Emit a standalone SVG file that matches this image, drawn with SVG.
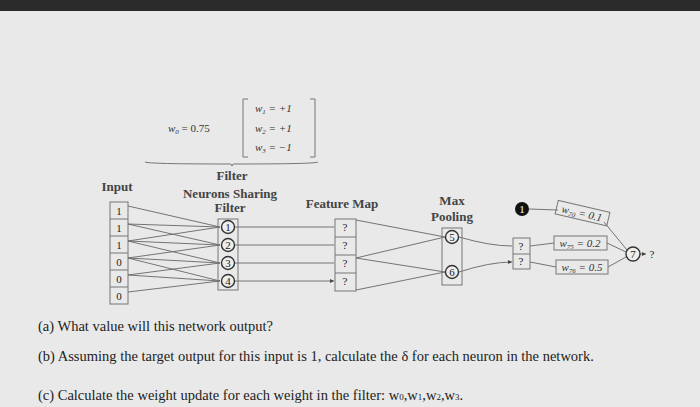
<svg xmlns="http://www.w3.org/2000/svg" width="700" height="407" viewBox="0 0 700 407">
<defs>
<marker id="ar" viewBox="0 0 6 6" refX="6" refY="3" markerWidth="5" markerHeight="5" orient="auto"><path d="M0,0L6,3L0,6z" fill="#444"/></marker>
<style>
text{font-family:"Liberation Serif",serif;fill:#333}
.t{font-size:13px;text-anchor:middle;font-weight:bold;fill:#444}
.i{font-style:italic;font-size:11px}
.q{font-size:14.5px;fill:#222}
.b{fill:none;stroke:#777;stroke-width:1}
.l{stroke:#666;stroke-width:0.9;fill:none}
.n{fill:#eee;stroke:#333;stroke-width:1.4}
.nt{font-size:11px;text-anchor:middle;fill:#222}
</style>
</defs>
<rect width="700" height="407" fill="#e9e9e9"/>
<rect width="700" height="11" fill="#2a2a2a"/>
<g id="filter-def">
<text x="168" y="132" class="i">w<tspan font-size="7" dy="2">0</tspan><tspan dy="-2" font-style="normal"> = 0.75</tspan></text>
<path d="M248,99h-5v58h5M310,99h5v58h-5" class="b" stroke="#444"/>
<text x="255" y="112" class="i">w<tspan font-size="7" dy="2">1</tspan><tspan dy="-2"> = +1</tspan></text>
<text x="255" y="132" class="i">w<tspan font-size="7" dy="2">2</tspan><tspan dy="-2"> = +1</tspan></text>
<text x="255" y="151" class="i">w<tspan font-size="7" dy="2">3</tspan><tspan dy="-2"> = −1</tspan></text>
<path d="M145,162Q148,164 230,164Q232,164 232,166Q232,164 234,164Q316,164 318,162" class="b"/>
<text x="232" y="180" class="t">Filter</text>
</g>
<g id="input">
<text x="117" y="191" class="t">Input</text>
<rect x="110" y="202" width="18" height="102" class="b"/>
<path d="M110,219h18M110,236h18M110,253h18M110,270h18M110,287h18" class="b"/>
<text x="119" y="215" class="nt">1</text><text x="119" y="232" class="nt">1</text><text x="119" y="249" class="nt">1</text>
<text x="119" y="266" class="nt">0</text><text x="119" y="283" class="nt">0</text><text x="119" y="300" class="nt">0</text>
</g>
<g id="connectors">
<path class="l" d="M128,206L220,227M128,224L220,245M128,241L220,263M128,224L220,227M128,241L220,245M128,258L220,263M128,241L220,227M128,258L220,245M128,275L220,263M128,258L220,281M128,275L220,281M128,292L220,281"/>
<path class="l" marker-end="url(#ar)" d="M235,227H334M235,245H334M235,263H334M235,281H334"/>
<path class="l" d="M356,220L445,237M356,258L445,237M356,258L445,272M356,290L445,272"/>
<path class="l" marker-end="url(#ar)" d="M459,237Q490,246 512,246M459,272Q490,262 512,262"/>
<path class="l" d="M529,209L558,210M530,246L554,243M530,262L556,267"/>
<path class="l" marker-end="url(#ar)" d="M604,222L627,250M607,243L626,252M608,267L626,257M640,254H646"/>
</g>
<g id="conv-neurons">
<text x="230" y="198" class="t">Neurons Sharing</text>
<text x="230" y="212" class="t">Filter</text>
<rect x="218" y="219" width="20" height="71" class="b"/>
<circle cx="228" cy="227" r="6.5" class="n"/><text x="228" y="231" class="nt">1</text>
<circle cx="228" cy="245" r="6.5" class="n"/><text x="228" y="249" class="nt">2</text>
<circle cx="228" cy="263" r="6.5" class="n"/><text x="228" y="267" class="nt">3</text>
<circle cx="228" cy="281" r="6.5" class="n"/><text x="228" y="285" class="nt">4</text>
</g>
<g id="feature-map">
<text x="342" y="208" class="t">Feature Map</text>
<rect x="335" y="219" width="21" height="72" class="b"/>
<path d="M335,237h21M335,255h21M335,273h21" class="b"/>
<text x="345" y="231" class="nt">?</text><text x="345" y="249" class="nt">?</text><text x="345" y="267" class="nt">?</text><text x="345" y="285" class="nt">?</text>
</g>
<g id="pooling">
<text x="452" y="205" class="t">Max</text>
<text x="452" y="221" class="t">Pooling</text>
<rect x="442" y="228" width="20" height="57" class="b"/>
<circle cx="452" cy="237" r="6.5" class="n"/><text x="452" y="241" class="nt">5</text>
<circle cx="452" cy="272" r="6.5" class="n"/><text x="452" y="276" class="nt">6</text>
</g>
<g id="pool-out">
<rect x="513" y="238" width="17" height="31" class="b"/>
<path d="M513,254h17" class="b"/>
<text x="521" y="250" class="nt">?</text><text x="521" y="265" class="nt">?</text>
</g>
<g id="bias"><circle cx="522" cy="209" r="7" fill="#111"/><text x="522" y="213" class="nt" style="fill:#fff">1</text></g>
<g id="weights">
<g transform="rotate(13 582 213)"><rect x="556" y="206" width="53" height="14" class="b"/><text x="582" y="217" class="i" text-anchor="middle">w<tspan font-size="7" dy="2">70</tspan><tspan dy="-2"> = 0.1</tspan></text></g>
<rect x="554" y="236" width="53" height="14" class="b"/><text x="580" y="247" class="i" text-anchor="middle">w<tspan font-size="7" dy="2">75</tspan><tspan dy="-2"> = 0.2</tspan></text>
<rect x="556" y="260" width="52" height="14" class="b"/><text x="582" y="271" class="i" text-anchor="middle">w<tspan font-size="7" dy="2">76</tspan><tspan dy="-2"> = 0.5</tspan></text>
</g>
<g id="output"><circle cx="633" cy="254" r="7" class="n"/><text x="633" y="258" class="nt">7</text><text x="652" y="258" class="nt">?</text></g>
<g id="questions">
<text x="38" y="331" class="q">(a)  What value will this network output?</text>
<text x="38" y="361" class="q">(b)  Assuming the target output for this input is 1, calculate the δ for each neuron in the network.</text>
<text x="38" y="400" class="q">(c)  Calculate the weight update for each weight in the filter: w<tspan font-size="9">0</tspan>,w<tspan font-size="9">1</tspan>,w<tspan font-size="9">2</tspan>,w<tspan font-size="9">3</tspan>.</text>
</g>
</svg>
